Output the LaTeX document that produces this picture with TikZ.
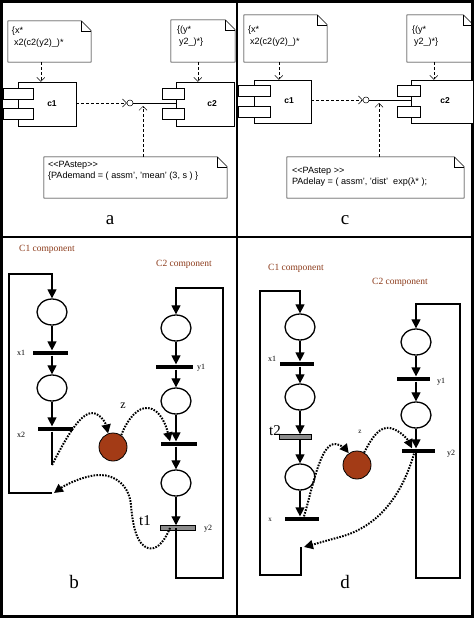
\documentclass[tikz,border=0pt]{standalone}
\usepackage{fontspec}
\setmainfont{Liberation Serif}
\setsansfont{Liberation Sans}
\usetikzlibrary{arrows.meta,calc,positioning,shapes.geometric}
\definecolor{ink}{HTML}{000000}
\definecolor{rust}{HTML}{A33B16}
\definecolor{rusttext}{HTML}{8B3A1A}
\definecolor{fired}{HTML}{8C8C8C}
\tikzset{
  frame/.style={draw=ink,line width=2.8pt},
  divider/.style={draw=ink,line width=2.2pt},
  notebox/.style={inner sep=0pt},
  noteline/.style={draw=ink,line width=0.5pt},
  notetext/.style={anchor=north west,inner sep=0pt,align=left,font=\sffamily\fontsize{9.1}{11.5}\selectfont},
  comp/.style={draw=ink,fill=white,line width=0.5pt,inner sep=0pt},
  complabel/.style={inner sep=0pt,font=\sffamily\bfseries\fontsize{8.5}{9}\selectfont},
  port/.style={draw=ink,fill=white,line width=0.5pt,minimum height=11pt,inner sep=0pt},
  socket/.style={circle,draw=ink,fill=white,line width=0.5pt,minimum size=6pt,inner sep=0pt},
  dep/.style={-{Straight Barb[length=4pt,width=8pt]},line width=0.5pt,dash pattern=on 3pt off 2pt},
  wire/.style={line width=0.6pt},
  place/.style={ellipse,draw=ink,line width=1.3pt,minimum width=30pt,minimum height=26pt,inner sep=0pt},
  trans/.style={rectangle,fill=ink,minimum height=4.8pt,inner sep=0pt},
  firedtrans/.style={trans,fill=fired,draw=ink,line width=0.7pt},
  token/.style={circle,fill=rust,draw=ink,line width=0.8pt,minimum size=28pt,inner sep=0pt},
  arc/.style={-{Triangle[length=9pt,width=9pt]},line width=1.2pt},
  signal/.style={-{Triangle[length=9pt,width=9pt]},line width=2pt,dash pattern=on 1.6pt off 1.3pt},
  tlabel/.style={inner sep=0pt,font=\fontsize{8}{9}\selectfont},
  biglabel/.style={inner sep=0pt,font=\fontsize{15}{16}\selectfont},
  compname/.style={inner sep=0pt,text=rusttext,font=\fontsize{9.5}{11}\selectfont},
  panelname/.style={inner sep=0pt,font=\fontsize{19}{20}\selectfont}
}
\newcommand{\notefold}[1]{%
  \draw[noteline] (#1.north west) -- ([xshift=-10pt]#1.north east) -- ([yshift=-10pt]#1.north east)
    -- (#1.south east) -- (#1.south west) -- cycle;
  \draw[noteline] ([xshift=-10pt]#1.north east) |- ([yshift=-10pt]#1.north east);}
\begin{document}
\begin{tikzpicture}[x=1pt,y=-1pt]
  \useasboundingbox (0,0) rectangle (474,618);
  \draw[frame] (1.4,1.4) rectangle (472.6,616.6);
  \draw[divider] (237,0) -- (237,618);
  \draw[divider] (0,237) -- (474,237);

  % ---- panel a: component diagram, PAdemand
  \node[notebox,minimum width=83pt,minimum height=41pt] (na1) at (49.5,41.5) {};
  \notefold{na1}
  \node[notetext] (na1t) at ([shift={(4pt,-6pt)}]na1.north west) {\{x*\\\hspace{2pt}x2(c2(y2)\_)*};
  \node[notebox,minimum width=64pt,minimum height=42pt] (na2) at (203,41) {};
  \notefold{na2}
  \node[notetext] (na2t) at ([shift={(6pt,-6pt)}]na2.north west) {\{(y*\\\hspace{2pt}y2\_)*\}};
  \node[comp,minimum width=58pt,minimum height=44pt] (ca1) at (47,104) {};
  \node[port,minimum width=30pt] (ca1p) at ([yshift=10pt]ca1.west) {};
  \node[port,minimum width=30pt] (ca1q) at ([yshift=-10pt]ca1.west) {};
  \node[complabel] (ca1l) at (52,104) {c1};
  \node[comp,minimum width=58pt,minimum height=44pt] (ca2) at (205,104) {};
  \node[port,minimum width=22pt] (ca2p) at ([shift={(-3pt,10pt)}]ca2.west) {};
  \node[port,minimum width=22pt] (ca2q) at ([shift={(-3pt,-10pt)}]ca2.west) {};
  \node[complabel] (ca2l) at (212,104) {c2};
  \node[socket] (sa) at (130,103) {};
  \node[notebox,minimum width=183pt,minimum height=41pt] (na3) at (135.5,177.5) {};
  \notefold{na3}
  \node[notetext] (na3t) at ([shift={(4pt,-4pt)}]na3.north west) {{<}{<}PAstep{>}{>}\\\{PAdemand = ( assm', 'mean' (3, s ) \}};
  \coordinate (qa) at (143,106);
  \draw[dep] ([xshift=33pt]na1.south west) -- ([xshift=33pt]na1.south west |- ca1.north);
  \draw[dep] ([xshift=27pt]na2.south west) -- ([xshift=27pt]na2.south west |- ca2.north);
  \draw[dep] (ca1.east |- sa) -- (sa.west);
  \draw[wire] (sa.east) -- (ca2.west |- sa);
  \draw[dep] (na3.north -| qa) -- (qa);
  \node[panelname] (la) at (110,220) {a};

  % ---- panel c: component diagram, PAdelay
  \node[notebox,minimum width=83pt,minimum height=47pt] (nc1) at (285.5,38.5) {};
  \notefold{nc1}
  \node[notetext] (nc1t) at ([shift={(4pt,-11pt)}]nc1.north west) {\{x*\\\hspace{2pt}x2(c2(y2)\_)*};
  \node[notebox,minimum width=66pt,minimum height=47pt] (nc2) at (440,38.5) {};
  \notefold{nc2}
  \node[notetext] (nc2t) at ([shift={(5pt,-11pt)}]nc2.north west) {\{(y*\\\hspace{2pt}y2\_)*\}};
  \node[comp,minimum width=57pt,minimum height=43pt] (cc1) at (282.5,101.5) {};
  \node[port,minimum width=32pt] (cc1p) at ([yshift=11pt]cc1.west) {};
  \node[port,minimum width=32pt] (cc1q) at ([yshift=-10.5pt]cc1.west) {};
  \node[complabel] (cc1l) at (289,101) {c1};
  \node[comp,minimum width=62pt,minimum height=43pt] (cc2) at (442,101.5) {};
  \node[port,minimum width=23pt] (cc2p) at ([shift={(-2.5pt,11pt)}]cc2.west) {};
  \node[port,minimum width=23pt] (cc2q) at ([shift={(-2.5pt,-10.5pt)}]cc2.west) {};
  \node[complabel] (cc2l) at (445,101) {c2};
  \node[socket] (sc) at (366,100) {};
  \node[notebox,minimum width=177pt,minimum height=41pt] (nc3) at (375.5,177.5) {};
  \notefold{nc3}
  \node[notetext] (nc3t) at ([shift={(5pt,-10pt)}]nc3.north west) {{<}{<}PAstep {>}{>}\\PAdelay = ( assm', 'dist' \ exp(λ* );};
  \coordinate (qc) at (379,103);
  \draw[dep] ([xshift=35pt]nc1.south west) -- ([xshift=35pt]nc1.south west |- cc1.north);
  \draw[dep] ([xshift=27pt]nc2.south west) -- ([xshift=27pt]nc2.south west |- cc2.north);
  \draw[dep] (cc1.east |- sc) -- (sc.west);
  \draw[wire] (sc.east) -- (cc2.west |- sc);
  \draw[dep] (nc3.north -| qc) -- (qc);
  \node[panelname] (lc) at (345,220) {c};

  % ---- panel b: Petri net with t1
  \node[compname] (c1b) at (47,249) {C1 component};
  \node[compname] (c2b) at (184,264) {C2 component};
  \node[place] (pb1) at (52,312) {};
  \node[trans,minimum width=35pt] (xb1) at (50,353) {};
  \node[place] (pb2) at (52,388) {};
  \node[trans,minimum width=35pt] (xb2) at (55,429) {};
  \coordinate (xb2end) at (52,465);
  \coordinate (retb) at (52,493);
  \coordinate (ltb) at (9,274);
  \node[place] (pb3) at (176,328) {};
  \node[trans,minimum width=37pt] (yb1) at (174,367) {};
  \node[place] (pb4) at (176,401) {};
  \node[trans,minimum width=36pt] (tb1) at (179,444) {};
  \node[place] (pb5) at (176,483) {};
  \node[firedtrans,minimum width=35pt] (yb2) at (178,528) {};
  \coordinate (rbb) at (223,578);
  \coordinate (rtb) at (223,288);
  \node[token] (zb) at (113,447) {};
  \node[tlabel] (xb1l) at (21,353) {x1};
  \node[tlabel] (xb2l) at (21,435) {x2};
  \node[tlabel] (yb1l) at (201,368) {y1};
  \node[tlabel] (yb2l) at (208,529) {y2};
  \node[biglabel] (tb1l) at (145,521) {t1};
  \node[inner sep=0pt,font=\fontsize{12}{12}\selectfont] (zbl) at (123,406) {z};
  \draw[arc] (retb) -| (ltb) -| (pb1.north);
  \draw[arc] (pb1.south) -- (pb1.south |- xb1.north);
  \draw[arc] (xb1.south -| pb2) -- (pb2.north);
  \draw[arc] (pb2.south) -- (pb2.south |- xb2.north);
  \draw[wire,line width=1.2pt] (xb2.south -| xb2end) -- (xb2end);
  \draw[arc] (yb2.center -| pb5) |- (rbb) -- (rtb) -| (pb3.north);
  \draw[arc] (pb3.south) -- (pb3.south |- yb1.north);
  \draw[arc] (yb1.south -| pb4) -- (pb4.north);
  \draw[arc] (pb4.south) -- (pb4.south |- tb1.north);
  \draw[arc] (tb1.south -| pb5) -- (pb5.north);
  \draw[arc] (pb5.south) -- (pb5.south |- yb2.north);
  \draw[signal] (xb2end) .. controls (65,440) and (80,412) .. (93,413) .. controls (101,414) and (106,424) .. (zb.110);
  \draw[signal] (zb.55) .. controls (128,418) and (138,407) .. (148,408) .. controls (160,409) and (166,425) .. ([xshift=-9pt]tb1.north);
  \draw[signal] ([xshift=-8pt]yb2.center) .. controls (163,545) and (155,550) .. (148,548)
    .. controls (138,545) and (133,530) .. (131,505) .. controls (129,485) and (115,475) .. (100,475)
    .. controls (85,475) and (65,485) .. ([xshift=2pt]retb);
  \node[panelname] (lb) at (74,582) {b};

  % ---- panel d: Petri net with t2
  \node[compname] (c1d) at (296,268) {C1 component};
  \node[compname] (c2d) at (400,282) {C2 component};
  \node[place] (pd1) at (300,327) {};
  \node[trans,minimum width=34pt] (xd1) at (297,364) {};
  \node[place] (pd2) at (300,397) {};
  \node[firedtrans,minimum width=32pt] (td2) at (295,437) {};
  \node[place] (pd3) at (300,477) {};
  \node[trans,minimum width=34pt] (xd3) at (302,519) {};
  \coordinate (retd) at (301,547);
  \coordinate (lbd) at (260,575);
  \coordinate (ltd) at (260,291);
  \node[place] (pd4) at (416,342) {};
  \node[trans,minimum width=33pt] (yd1) at (413,379) {};
  \node[place] (pd5) at (416,415) {};
  \node[trans,minimum width=33pt] (yd2) at (418,451) {};
  \coordinate (rbd) at (460,578);
  \coordinate (rtd) at (460,304);
  \node[token] (zd) at (357,465) {};
  \node[tlabel] (xd1l) at (272,359) {x1};
  \node[biglabel] (td2l) at (275,431) {t2};
  \node[tlabel,font=\fontsize{7}{8}\selectfont] (xd3l) at (270,520) {x};
  \node[tlabel] (yd1l) at (441,382) {y1};
  \node[tlabel] (yd2l) at (451,454) {y2};
  \node[tlabel,font=\fontsize{7}{8}\selectfont] (zdl) at (360,432) {z};
  \draw[arc] (retd) |- (lbd) -- (ltd) -| (pd1.north);
  \draw[arc] (pd1.south) -- (pd1.south |- xd1.north);
  \draw[arc] (xd1.south -| pd2) -- (pd2.north);
  \draw[arc] (pd2.south) -- (pd2.south |- td2.north);
  \draw[arc] (td2.south -| pd3) -- (pd3.north);
  \draw[arc] (pd3.south) -- (pd3.south |- xd3.north);
  \draw[arc] (yd2.center -| pd5) |- (rbd) -- (rtd) -| (pd4.north);
  \draw[arc] (pd4.south) -- (pd4.south |- yd1.north);
  \draw[arc] (yd1.south -| pd5) -- (pd5.north);
  \draw[arc] (pd5.south) -- (pd5.south |- yd2.north);
  \draw[signal] ([xshift=2pt]xd3.north) .. controls (312,490) and (320,445) .. (334,444) .. controls (342,444) and (347,451) .. (zd.125);
  \draw[signal] (zd.60) .. controls (372,437) and (380,426) .. (390,428) .. controls (400,430) and (408,440) .. ([xshift=-6pt]yd2.north);
  \draw[signal] ([xshift=-4pt]yd2.south) .. controls (405,485) and (385,525) .. (340,537) .. controls (325,541) and (315,544) .. ([xshift=3pt]retd);
  \node[panelname] (ld) at (345,582) {d};
\end{tikzpicture}
\end{document}
